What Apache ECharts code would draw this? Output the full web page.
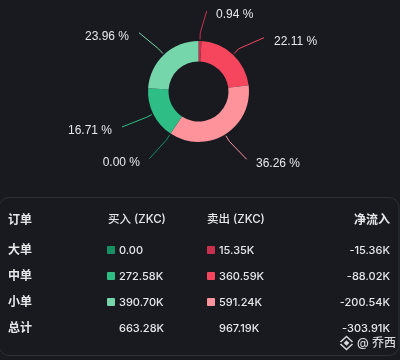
<!DOCTYPE html>
<html><head><meta charset="utf-8">
<style>html,body{margin:0;padding:0;background:#181a20}#c{width:400px;height:360px}</style>
<script src="https://cdn.jsdelivr.net/npm/echarts@6/dist/echarts.min.js"></script></head>
<body><div id="c"></div>
<script>
const sliceNames = ['大单卖出','中单卖出','小单卖出','大单买入','中单买入','小单买入'];
const sliceValues = [15.35, 360.59, 591.24, 0, 272.58, 390.70];
const sliceLabels = ['0.94 %','22.11 %','36.26 %','0.00 %','16.71 %','23.96 %'];
const sliceColors = ['#c9304f','#f6465d','#ff939c','#168f62','#2ebd85','#76d6ab'];
const headers = ['订单','买入 (ZKC)','卖出 (ZKC)','净流入'];
const rowNames = ['大单','中单','小单','总计'];
const buyTexts = ['0.00','272.58K','390.70K','663.28K'];
const sellTexts = ['15.35K','360.59K','591.24K','967.19K'];
const netTexts = ['-15.36K','-88.02K','-200.54K','-303.91K'];

const cx = 198.5, cy = 91.5, R = 50.5;
const lineEnds = [[206.7,11],[264,37.7],[246.7,159.3],[149.3,158.7],[122,127],[139,32.7]];
const labelPos = [[216,15,'left'],[274,42,'left'],[256,164,'left'],[140,163,'right'],[112,131,'right'],[129,37,'right']];
const total = sliceValues.reduce((a,b)=>a+b,0);
const midAngles = [];
let acc = 0;
sliceValues.forEach(v=>{ midAngles.push((acc+v/2)/total*2*Math.PI); acc+=v; });
const polar = (a,r)=>[cx+r*Math.sin(a), cy-r*Math.cos(a)];

const chart = echarts.init(document.getElementById('c'), null, {renderer:'canvas'});
const font = 'Inter, "Noto Sans CJK SC", sans-serif';
const numFont = '500 11px '+font;
const boldFont = '600 12px '+font;
const txt = (x,y,text,align,o={}) => ({type:'text',silent:true,x,y,style:Object.assign({text,fill:'#e6e8ea',font:numFont,align,verticalAlign:'middle'},o)});
const sq = (x,y,fill)=>({type:'rect',silent:true,shape:{x,y:y-4,width:8,height:8,r:1},style:{fill}});
const rowY = [250.5,276.5,302.5,328.5];
const els = [
 {type:'rect',silent:true,shape:{x:-1,y:197.5,width:400,height:158,r:10},style:{fill:'#181a20',stroke:'#2b3139',lineWidth:1}},
 txt(8,220,headers[0],'left',{font:boldFont}),
 txt(108,220,headers[1],'left',{font:'500 11.5px '+font}),
 txt(207,220,headers[2],'left',{font:'500 11.5px '+font}),
 txt(390,220,headers[3],'right',{font:boldFont})
];
rowNames.forEach((n,i)=>{
  const y=rowY[i];
  els.push(txt(8,y,n,'left',{font:boldFont}));
  els.push(txt(119,y,buyTexts[i],'left'));
  els.push(txt(219,y,sellTexts[i],'left'));
  els.push(txt(390,y,netTexts[i],'right'));
  if(i<3){
    els.push(sq(107,y-0.5,sliceColors[3+i]));
    els.push(sq(207,y-0.5,sliceColors[i]));
  }
});
// watermark
els.push({type:'group',silent:true,x:346.5,y:343,children:[
  {type:'rect',shape:{x:-2,y:-2,width:4,height:4},rotation:Math.PI/4,style:{fill:'#d5d7da'}},
  {type:'polyline',shape:{points:[[-6,-1],[0,-6.5],[6,-1]]},style:{stroke:'#d5d7da',fill:null,lineWidth:1.6}},
  {type:'polyline',shape:{points:[[-6,1],[0,6.5],[6,1]]},style:{stroke:'#d5d7da',fill:null,lineWidth:1.6}}
]});
els.push(txt(357,343,'@ 乔西','left',{font:'500 12px '+font,fill:'#d5d7da'}));

chart.setOption({
  animation:false,
  backgroundColor:'#181a20',
  graphic:{elements:els},
  series:[{
    type:'pie',
    center:[cx,cy],
    radius:[30,R],
    startAngle:90,
    clockwise:true,
    avoidLabelOverlap:false,
    stillShowZeroSum:true,
    minShowLabelAngle:0,
    percentPrecision:2,
    data:sliceNames.map((name,i)=>({name,value:sliceValues[i],itemStyle:{color:sliceColors[i]}})),
    label:{show:true,color:'#e6e8ea',fontSize:12,fontFamily:'"Liberation Sans", Arial, sans-serif',
      formatter:p=>sliceLabels[p.dataIndex]},
    labelLine:{show:true,length:6,length2:20,smooth:false,lineStyle:{width:1}},
    labelLayout:p=>{
      const i=p.dataIndex, a=midAngles[i], P=labelPos[i];
      return {x:P[0],y:P[1],align:P[2],verticalAlign:'middle',
        labelLinePoints:[polar(a,R+1.5),polar(a,R+8),lineEnds[i]]};
    }
  }]
});
</script></body></html>
